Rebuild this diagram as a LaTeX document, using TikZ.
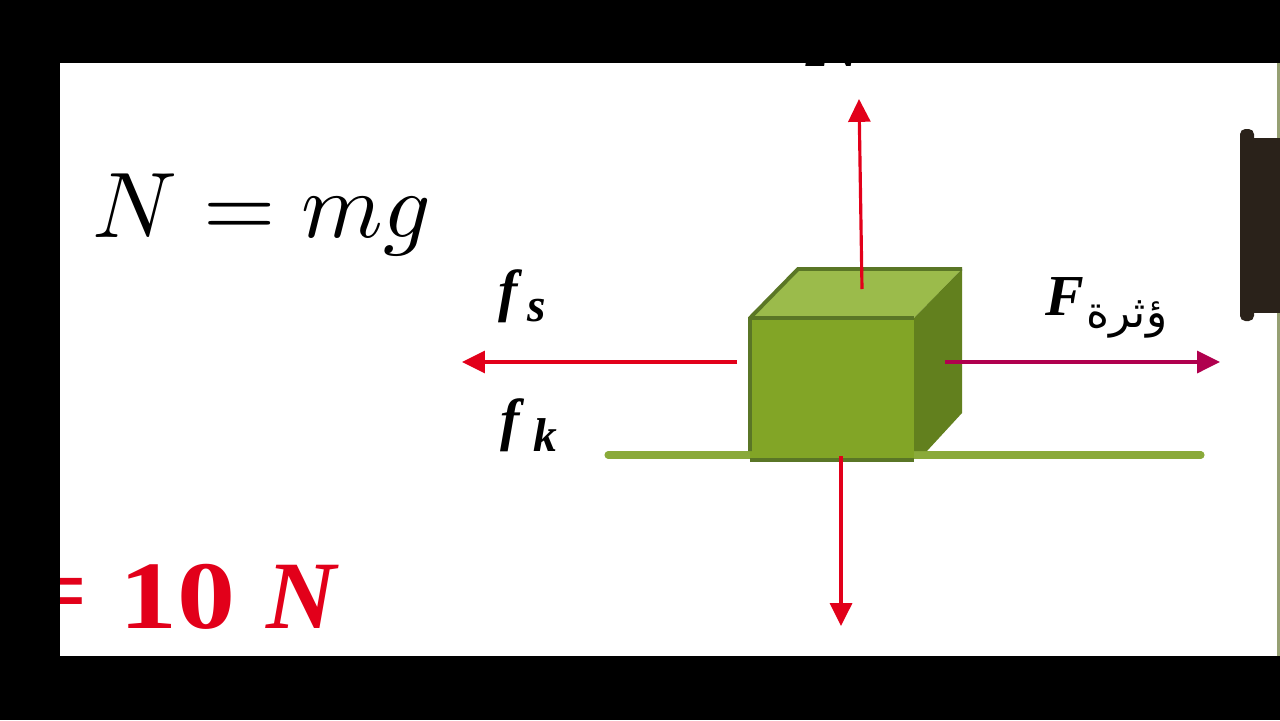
\documentclass[tikz,border=0pt]{standalone}
\usepackage{fontspec}
\setmainfont{Liberation Serif}
\newfontfamily\arabicfont[Script=Arabic]{DejaVu Sans}
\TeXXeTstate=1
\usepackage{xcolor}
\usetikzlibrary{arrows.meta, calc}

\definecolor{forcered}{RGB}{226,0,26}
\definecolor{forceplum}{RGB}{176,0,78}
\definecolor{boxfront}{RGB}{130,165,38}
\definecolor{boxtop}{RGB}{155,187,75}
\definecolor{boxside}{RGB}{98,128,30}
\definecolor{boxedge}{RGB}{90,118,38}
\definecolor{groundgreen}{RGB}{138,170,58}
\definecolor{standdark}{RGB}{42,34,26}
\definecolor{edgeolive}{RGB}{150,160,115}

\tikzset{
	force/.style={draw=forcered, line width=1.8pt, -{Triangle[length=13pt, width=12.5pt]}},
	boxface/.style={boxedge, line width=2.2pt, line join=miter},
	symbol/.style={inner sep=0pt, font=\fontsize{33}{33}\selectfont\bfseries\itshape},
	subsymbol/.style={inner sep=0pt, font=\fontsize{27}{27}\selectfont\bfseries\itshape},
}

\begin{document}
\begin{tikzpicture}[x=0.02cm, y=-0.02cm]
	\useasboundingbox (0,0) rectangle (1280,720);
	\fill [black] (0,0) rectangle (1280,720);
	\fill [white] (60,63) rectangle (1280,656);

	% block
	\coordinate (FL) at (750,318);
	\coordinate (FR) at (914,318);
	\coordinate (BL) at (750,460);
	\coordinate (BR) at (914,460);
	\coordinate (TL) at (798,269);
	\coordinate (TR) at (962,269);
	\coordinate (SR) at (962,413);

	% ground
	\coordinate (GL) at (608,455);
	\coordinate (GR) at (1201,455);
	\draw [groundgreen, line width=4pt, line cap=round] (GL) -- (GR);

	\fill [boxtop] (FL) -- (TL) -- (TR) -- (FR) -- cycle;
	\fill [boxside] (FR) -- (TR) -- (SR) -- (927,451) -- (914,451) -- cycle;
	\fill [boxfront] (FL) -- (FR) -- (BR) -- (BL) -- cycle;
	\draw [boxface] (750,451) -- (FL) -- (TL) -- (TR);
	\draw [boxface] (FL) -- (FR);
	\draw [boxface] (BL) -- (BR);

	% forces
	\coordinate (Nstart) at (862,289);
	\coordinate (Nend) at (859,99);
	\coordinate (Wstart) at (841,456);
	\coordinate (Wend) at (841,626);
	\coordinate (Fstart) at (945,362);
	\coordinate (Fend) at (1220,362);
	\coordinate (fstart) at (737,362);
	\coordinate (fend) at (462,362);

	\draw [force] (Nstart) -- (Nend);
	\draw [force] (Wstart) -- (Wend);
	\draw [force] (fstart) -- (fend);
	\draw [force, draw=forceplum] (Fstart) -- (Fend);

	% labels
	\node [inner sep=0pt, scale=5.3] (eqn) at (262,215) {$N=mg$};
	\node [symbol] (fs) at (508,296) {f};
	\node [subsymbol] (fsSub) at (537,311) {s};
	\node [symbol] (fk) at (510,425) {f};
	\node [subsymbol] (fkSub) at (545,435) {k};
	\node [symbol] (Fpull) at (1065,297) {F};
	\node [inner sep=0pt, font=\fontsize{25}{25}\selectfont\arabicfont] (Fword) at (1127,319) {\beginR ؤثرة\endR};
	\node [inner sep=0pt, text=forcered, xscale=1.2, font=\fontsize{55}{55}\selectfont\bfseries] (ten) at (177,597) {10};
	\node [inner sep=0pt, text=forcered, font=\fontsize{55}{55}\selectfont\bfseries\itshape] (tenN) at (301,597) {N};
	\node [inner sep=0pt, text=forcered, font=\fontsize{55}{55}\selectfont\bfseries] (tenEq) at (60,601) {=};
	\node [inner sep=0pt, font=\fontsize{46}{46}\selectfont\bfseries\itshape] (Ntop) at (836,40) {N};

	% stand at the right edge
	\draw [edgeolive, line width=1.6pt] (1278.5,63) -- (1278.5,656);
	\fill [standdark, rounded corners=3pt] (1240,129) rectangle (1254,321);
	\fill [standdark] (1250,138) rectangle (1280,313);

	% frame over the cut off letters
	\fill [black] (0,0) rectangle (1280,63);
	\fill [black] (0,0) rectangle (60,720);
\end{tikzpicture}
\end{document}
